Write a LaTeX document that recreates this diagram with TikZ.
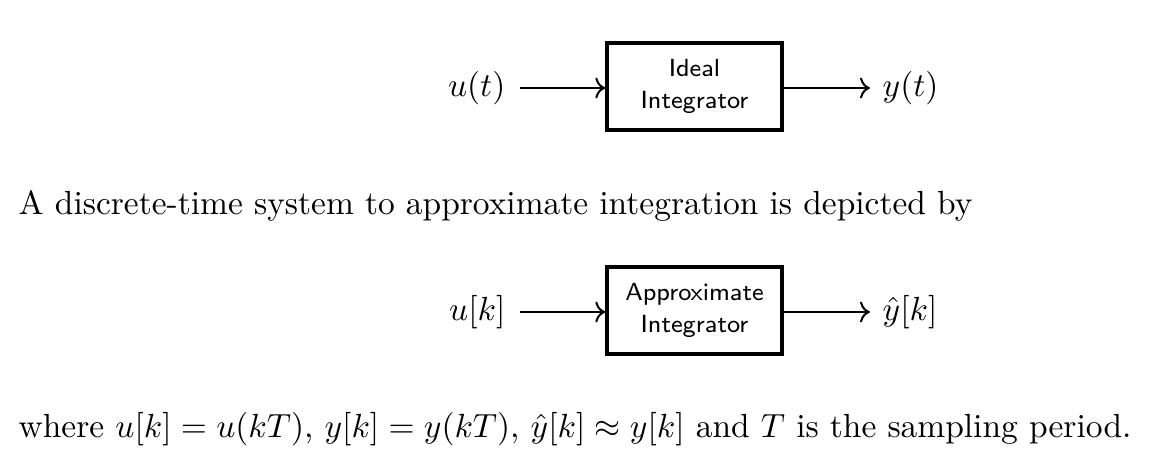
\documentclass[tikz,border=0pt]{standalone}
\usetikzlibrary{arrows.meta}
\begin{document}
\begin{tikzpicture}[x=0.2988pt,y=-0.2988pt,
  blk/.style={draw,line width=1pt,minimum width=175*0.2988pt,minimum height=87*0.2988pt,align=center,font=\sffamily\fontsize{7.4}{9.6}\selectfont},
  sig/.style={inner sep=0pt},
  conn/.style={-{To[length=3pt]},line width=0.6pt}]
\useasboundingbox (0,0) rectangle (1158,464);
\node[blk] (b1) at (694.5,86.5) {Ideal\\Integrator};
\node[blk] (b2) at (694.5,310.5) {Approximate\\Integrator};
\node[sig,anchor=east] (u1) at (506,88) {$u(t)$};
\node[sig,anchor=west] (y1) at (882,88) {$y(t)$};
\node[sig,anchor=east] (u2) at (506,312) {$u[k]$};
\node[sig,anchor=west] (y2) at (882,312) {$\hat y[k]$};
\coordinate (a1) at (520,88); \coordinate (c1) at (870,88);
\coordinate (a2) at (520,312); \coordinate (c2) at (870,312);
\draw[conn] (a1) -- (b1.west|-a1);
\draw[conn] (b1.east|-c1) -- (c1);
\draw[conn] (a2) -- (b2.west|-a2);
\draw[conn] (b2.east|-c2) -- (c2);
\node[sig,anchor=base west] (t1) at (18,215) {A discrete-time system to approximate integration is depicted by};
\node[sig,anchor=base west] (t2) at (18,438) {where $u[k]=u(kT)$, $y[k]=y(kT)$, $\hat y[k]\approx y[k]$ and $T$ is the sampling period.};
\end{tikzpicture}
\end{document}
